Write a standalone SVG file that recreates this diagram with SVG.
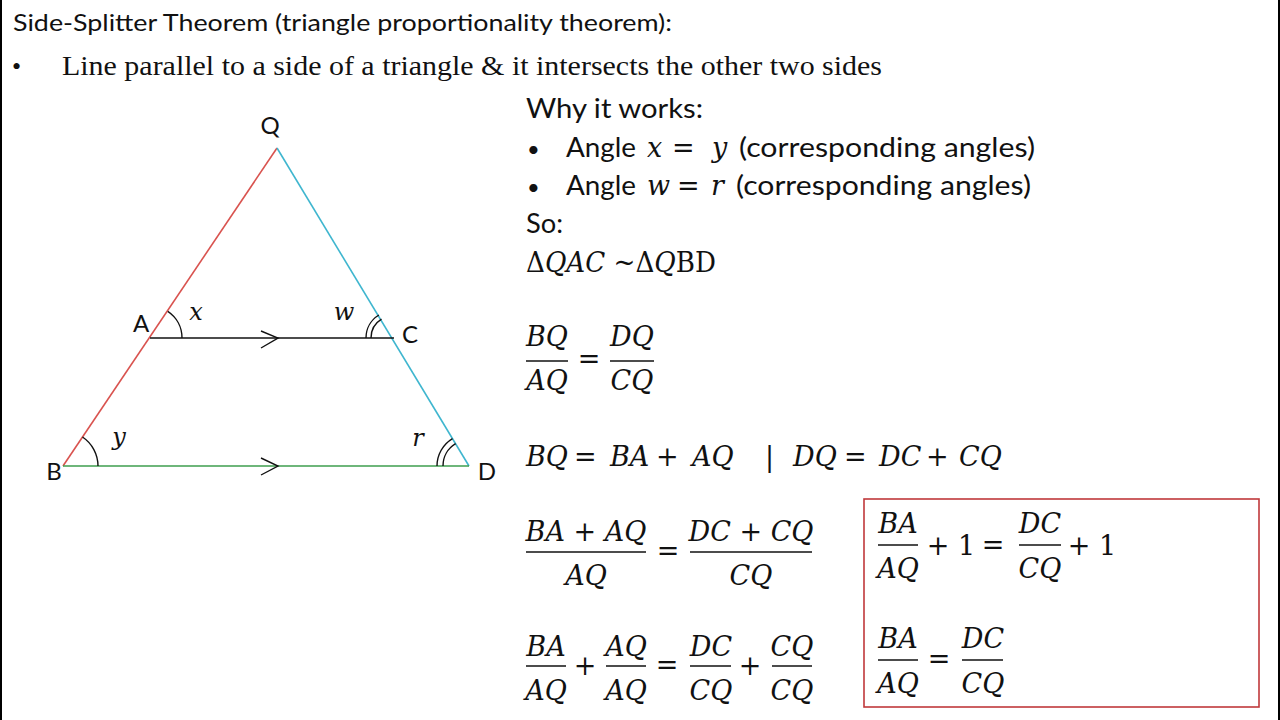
<svg xmlns="http://www.w3.org/2000/svg" width="1280" height="720" viewBox="0 0 1280 720">
<style>
.sans{font-family:Lato,"Open Sans","Liberation Sans",sans-serif;fill:#111}
.ser{font-family:"Liberation Serif","DejaVu Serif",serif;fill:#111}
.m{font-family:"DejaVu Serif","Liberation Serif",serif;font-style:italic;font-size:27px;fill:#111}
.op{font-family:"DejaVu Serif","Liberation Serif",serif;font-size:27px;fill:#111}
.bar{stroke:#111;stroke-width:1.6}
.ang{fill:none;stroke:#111;stroke-width:1.4}
.lbl{font-family:Lato,"Open Sans","Liberation Sans",sans-serif;font-size:24px;fill:#111;text-anchor:middle}
.ml{font-family:"DejaVu Serif","Liberation Serif",serif;font-style:italic;font-size:24px;fill:#111;text-anchor:middle}
</style>
<rect width="1280" height="720" fill="#fff"/>
<rect x="0" y="0" width="2" height="720" fill="#000"/>
<rect x="1278" y="0" width="2" height="720" fill="#000"/>

<g id="header">
<text class="sans" x="13" y="31" font-size="24" textLength="659" lengthAdjust="spacingAndGlyphs">Side-Splitter Theorem (triangle proportionality theorem):</text>
<text class="ser" x="12" y="75" font-size="26">•</text>
<text class="ser" x="62" y="75" font-size="28" textLength="820" lengthAdjust="spacingAndGlyphs">Line parallel to a side of a triangle &amp; it intersects the other two sides</text>
</g>

<g id="triangle">
<line x1="277" y1="148" x2="63" y2="466" stroke="#d9534f" stroke-width="1.6"/>
<line x1="277" y1="148" x2="469" y2="466" stroke="#3fb6cf" stroke-width="1.6"/>
<line x1="63" y1="466" x2="469" y2="466" stroke="#3e9e4e" stroke-width="1.6"/>
<line x1="150" y1="338" x2="394" y2="338" stroke="#111" stroke-width="1.6"/>
<polyline class="ang" points="261,331 278,338 261,348"/>
<polyline class="ang" points="261,458 278,466 261,475"/>
<path class="ang" d="M182,338 A32,32 0 0 0 167.8,311.4"/>
<path class="ang" d="M98,466 A35,35 0 0 0 82.5,437"/>
<path class="ang" d="M371,338 A22,22 0 0 1 381.5,319.2"/>
<path class="ang" d="M366,338 A27,27 0 0 1 378.9,315"/>
<path class="ang" d="M443,466 A26,26 0 0 1 455.6,443.7"/>
<path class="ang" d="M437,466 A32,32 0 0 1 452.5,438.6"/>
</g>

<g id="labels">
<text class="lbl" x="270" y="134">Q</text>
<text class="lbl" x="141" y="332">A</text>
<text class="lbl" x="410" y="343">C</text>
<text class="lbl" x="54" y="480">B</text>
<text class="lbl" x="487" y="480">D</text>
<text class="ml" x="196" y="320">x</text>
<text class="ml" x="344" y="320">w</text>
<text class="ml" x="119" y="445">y</text>
<text class="ml" x="418" y="446">r</text>
</g>

<g id="why">
<text class="sans" x="526" y="118" font-size="27" textLength="177" lengthAdjust="spacingAndGlyphs">Why it works:</text>
<text class="sans" x="527" y="157" font-size="22">•</text>
<text class="sans" x="566" y="157" font-size="27" textLength="70" lengthAdjust="spacingAndGlyphs">Angle</text>
<text class="m" x="647" y="157">x</text>
<text class="op" x="672" y="157">=</text>
<text class="m" x="712" y="157">y</text>
<text class="sans" x="739" y="157" font-size="27" textLength="296" lengthAdjust="spacingAndGlyphs">(corresponding angles)</text>
<text class="sans" x="527" y="195" font-size="22">•</text>
<text class="sans" x="566" y="195" font-size="27" textLength="70" lengthAdjust="spacingAndGlyphs">Angle</text>
<text class="m" x="647" y="195">w</text>
<text class="op" x="677" y="195">=</text>
<text class="m" x="711" y="195">r</text>
<text class="sans" x="736" y="195" font-size="27" textLength="295" lengthAdjust="spacingAndGlyphs">(corresponding angles)</text>
<text class="sans" x="526" y="233" font-size="27" textLength="37" lengthAdjust="spacingAndGlyphs">So:</text>
<text class="op" x="526" y="272" textLength="190" lengthAdjust="spacingAndGlyphs">Δ<tspan font-style="italic">QAC</tspan> ~Δ<tspan font-style="italic">Q</tspan>BD</text>
</g>

<g id="eq1" text-anchor="middle">
<text class="m" x="547" y="346">BQ</text>
<line class="bar" x1="526" y1="361" x2="568" y2="361"/>
<text class="m" x="547" y="390">AQ</text>
<text class="op" x="589" y="368">=</text>
<text class="m" x="632" y="346">DQ</text>
<line class="bar" x1="610" y1="361" x2="654" y2="361"/>
<text class="m" x="632" y="390">CQ</text>
</g>

<g id="eq2">
<text class="m" x="526" y="466">BQ</text>
<text class="op" x="574" y="466">=</text>
<text class="m" x="610" y="466">BA</text>
<text class="op" x="656" y="466">+</text>
<text class="m" x="692" y="466">AQ</text>
<text class="op" x="765" y="466">|</text>
<text class="m" x="793" y="466">DQ</text>
<text class="op" x="844" y="466">=</text>
<text class="m" x="879" y="466">DC</text>
<text class="op" x="926" y="466">+</text>
<text class="m" x="959" y="466">CQ</text>
</g>

<g id="eq3" text-anchor="middle">
<text class="m" x="586" y="541">BA <tspan font-style="normal">+</tspan> AQ</text>
<line class="bar" x1="526" y1="552" x2="646" y2="552"/>
<text class="m" x="586" y="585">AQ</text>
<text class="op" x="668" y="560">=</text>
<text class="m" x="751" y="541">DC <tspan font-style="normal">+</tspan> CQ</text>
<line class="bar" x1="690" y1="552" x2="812" y2="552"/>
<text class="m" x="751" y="585">CQ</text>
</g>

<g id="eq4" text-anchor="middle">
<text class="m" x="546" y="656">BA</text>
<line class="bar" x1="526" y1="666" x2="566" y2="666"/>
<text class="m" x="546" y="700">AQ</text>
<text class="op" x="585" y="675">+</text>
<text class="m" x="626" y="656">AQ</text>
<line class="bar" x1="606" y1="666" x2="646" y2="666"/>
<text class="m" x="626" y="700">AQ</text>
<text class="op" x="667" y="674">=</text>
<text class="m" x="711" y="656">DC</text>
<line class="bar" x1="690" y1="666" x2="731" y2="666"/>
<text class="m" x="711" y="700">CQ</text>
<text class="op" x="750" y="675">+</text>
<text class="m" x="792" y="656">CQ</text>
<line class="bar" x1="772" y1="666" x2="812" y2="666"/>
<text class="m" x="792" y="700">CQ</text>
</g>

<g id="result-box">
<rect x="864" y="499" width="395" height="208" fill="none" stroke="#c0393b" stroke-width="1.6"/>
<g text-anchor="middle">
<text class="m" x="898" y="533">BA</text>
<line class="bar" x1="878" y1="545" x2="918" y2="545"/>
<text class="m" x="898" y="578">AQ</text>
<text class="op" x="951" y="555">+ 1</text>
<text class="op" x="993" y="554">=</text>
<text class="m" x="1040" y="533">DC</text>
<line class="bar" x1="1019" y1="545" x2="1061" y2="545"/>
<text class="m" x="1040" y="578">CQ</text>
<text class="op" x="1092" y="555">+ 1</text>
<text class="m" x="898" y="648">BA</text>
<line class="bar" x1="878" y1="660" x2="918" y2="660"/>
<text class="m" x="898" y="693">AQ</text>
<text class="op" x="939" y="668">=</text>
<text class="m" x="983" y="648">DC</text>
<line class="bar" x1="962" y1="660" x2="1003" y2="660"/>
<text class="m" x="983" y="693">CQ</text>
</g>
</g>
</svg>
